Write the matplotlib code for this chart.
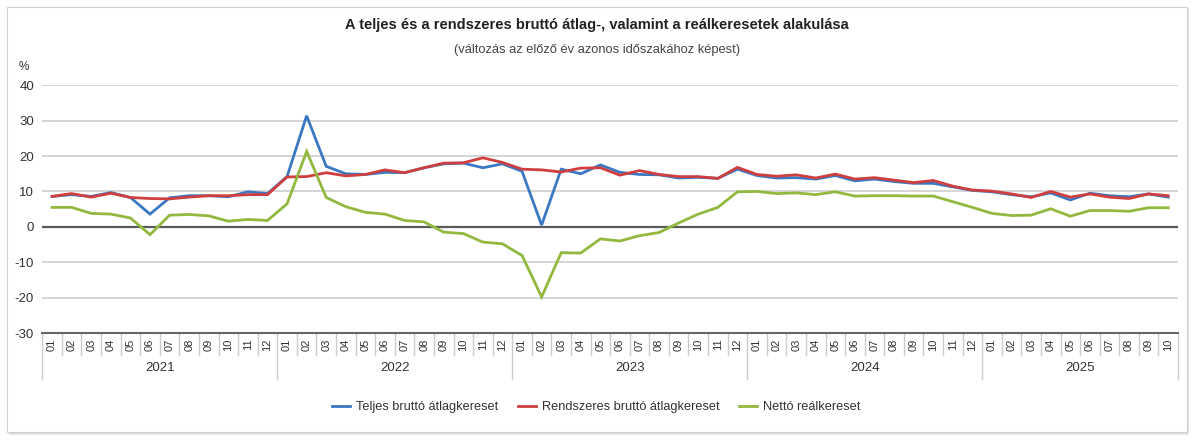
import matplotlib
matplotlib.use("Agg")
import matplotlib.pyplot as plt
from matplotlib.patches import Rectangle
from matplotlib.lines import Line2D
import matplotlib.transforms as mtransforms

plt.rcParams['font.family'] = ['Liberation Sans', 'DejaVu Sans']

title = "A teljes és a rendszeres bruttó átlag-, valamint a reálkeresetek alakulása"
subtitle = "(változás az előző év azonos időszakához képest)"
unit_label = "%"

years = ["2021", "2022", "2023", "2024", "2025"]
months_per_year = [12, 12, 12, 12, 10]
month_labels = [f"{m:02d}" for n in months_per_year for m in range(1, n + 1)]

teljes = [8.6, 9.1, 8.6, 9.7, 8.3, 3.6, 8.2, 8.8, 8.8, 8.5, 9.9, 9.4,
          14.2, 31.4, 17.1, 15.0, 14.8, 15.4, 15.3, 16.7, 17.8, 18.0, 16.7, 17.8,
          15.7, 0.5, 16.3, 15.0, 17.5, 15.4, 14.8, 14.7, 13.8, 14.0, 13.7, 16.3,
          14.5, 13.8, 13.9, 13.5, 14.5, 13.0, 13.5, 12.8, 12.3, 12.3, 11.3, 10.3,
          9.9, 9.1, 8.5, 9.6, 7.6, 9.5, 8.8, 8.5, 9.3, 8.4]
rendszeres = [8.6, 9.4, 8.4, 9.5, 8.3, 8.0, 7.9, 8.4, 8.8, 8.8, 9.1, 9.1,
              14.1, 14.2, 15.3, 14.4, 14.8, 16.1, 15.3, 16.7, 18.0, 18.1, 19.5, 18.2,
              16.3, 16.1, 15.5, 16.6, 16.7, 14.6, 15.9, 14.8, 14.2, 14.2, 13.7, 16.8,
              14.8, 14.3, 14.7, 13.8, 14.9, 13.5, 13.9, 13.2, 12.5, 13.1, 11.5, 10.4,
              10.1, 9.3, 8.3, 10.0, 8.4, 9.3, 8.4, 8.0, 9.3, 8.8]
netto_real = [5.5, 5.5, 3.8, 3.6, 2.5, -2.2, 3.3, 3.5, 3.1, 1.6, 2.1, 1.8,
              6.5, 21.3, 8.3, 5.7, 4.1, 3.6, 1.8, 1.4, -1.5, -1.9, -4.3, -4.8,
              -8.1, -19.8, -7.3, -7.4, -3.4, -4.0, -2.5, -1.6, 1.1, 3.6, 5.5, 9.9,
              10.0, 9.4, 9.6, 9.1, 9.9, 8.7, 8.8, 8.8, 8.7, 8.7, 7.1, 5.5,
              3.8, 3.2, 3.3, 5.1, 3.0, 4.6, 4.6, 4.4, 5.4, 5.4]

series_names = ["Teljes bruttó átlagkereset", "Rendszeres bruttó átlagkereset", "Nettó reálkereset"]
colors = ["#3b78c3", "#cf3f3f", "#92b83e"]
y_ticks = [40, 30, 20, 10, 0, -10, -20, -30]

W, H = 1200, 441
fig = plt.figure(figsize=(W / 100, H / 100), dpi=100)
fig.patch.set_facecolor("white")

# outer frame with subtle shadow
fig.add_artist(Rectangle((9 / W, 1 - 435 / H), 1180 / W, 426 / H, transform=fig.transFigure,
                         facecolor="#e4e4e4", edgecolor="none", zorder=-2))
fig.add_artist(Rectangle((7 / W, 1 - 432 / H), 1180 / W, 425 / H, transform=fig.transFigure,
                         facecolor="white", edgecolor="#cfcfcf", linewidth=0.8, zorder=-1))

left_px, right_px, top_px, bot_px = 42.3, 1178, 85.3, 333
ax = fig.add_axes([left_px / W, 1 - bot_px / H, (right_px - left_px) / W, (bot_px - top_px) / H])
ax.set_zorder(2)
ax.set_facecolor("none")
n = len(month_labels)
x = list(range(n))
ax.set_xlim(-0.5, n - 0.5)
ax.set_ylim(-30, 40)

for yv in y_ticks:
    if yv == 0:
        ax.axhline(0, color="#5a5a5a", linewidth=1.6, zorder=2)
    elif yv != -30:
        ax.axhline(yv, color="#d2d2d2", linewidth=1.3, zorder=1)

for vals, c, name in zip([teljes, rendszeres, netto_real], colors, series_names):
    ax.plot(x, vals, color=c, linewidth=2.0, label=name, zorder=3, solid_joinstyle="miter")

for s in ["top", "right", "left"]:
    ax.spines[s].set_visible(False)
ax.spines["bottom"].set_color("#666666")
ax.spines["bottom"].set_linewidth(1.5)

ax.set_yticks(y_ticks)
ax.set_yticklabels([str(v) for v in y_ticks], fontsize=9.5, color="#333333")
ax.tick_params(axis="y", length=0, pad=6)

ax.set_xticks(x)
ax.set_xticklabels(month_labels, rotation=90, fontsize=8, color="#333333")
ax.tick_params(axis="x", length=0, pad=4)

trans = mtransforms.blended_transform_factory(ax.transData, ax.transAxes)
axh = bot_px - top_px
month_bottom = -(355 - bot_px) / axh
year_bottom = -(379 - bot_px) / axh
year_label_y = -(368 - bot_px) / axh

boundaries = [i - 0.5 for i in range(n + 1)]
year_starts = []
acc = 0
for m in months_per_year:
    year_starts.append(acc)
    acc += m
year_bounds = set(year_starts + [n])
for b_i, b in enumerate(boundaries):
    if b_i in year_bounds:
        ax.plot([b, b], [0, year_bottom], transform=trans, color="#cccccc", linewidth=1.0, clip_on=False, zorder=1)
    else:
        ax.plot([b, b], [0, month_bottom], transform=trans, color="#cccccc", linewidth=1.0, clip_on=False, zorder=1)

for yr, start, m in zip(years, year_starts, months_per_year):
    ax.text(start + (m - 1) / 2, year_label_y, yr, transform=trans, ha="center", va="center",
            fontsize=9.5, color="#333333")

fig.text(597 / W, 1 - 25 / H, title, ha="center", va="center", fontsize=10.5, fontweight="bold", color="#222222")
fig.text(597 / W, 1 - 50 / H, subtitle, ha="center", va="center", fontsize=9.3, color="#444444")
fig.text(19 / W, 1 - 67 / H, unit_label, ha="left", va="center", fontsize=8.5, color="#333333")

handles = [Line2D([0], [0], color=c, linewidth=2.0) for c in colors]
fig.legend(handles, series_names, loc="center", bbox_to_anchor=(0.497, 1 - 407 / H), ncol=3,
           frameon=False, fontsize=9.2, handlelength=1.4, handletextpad=0.5, columnspacing=1.5,
           labelcolor="#333333")

fig.savefig("out.png", dpi=100, facecolor="white")
